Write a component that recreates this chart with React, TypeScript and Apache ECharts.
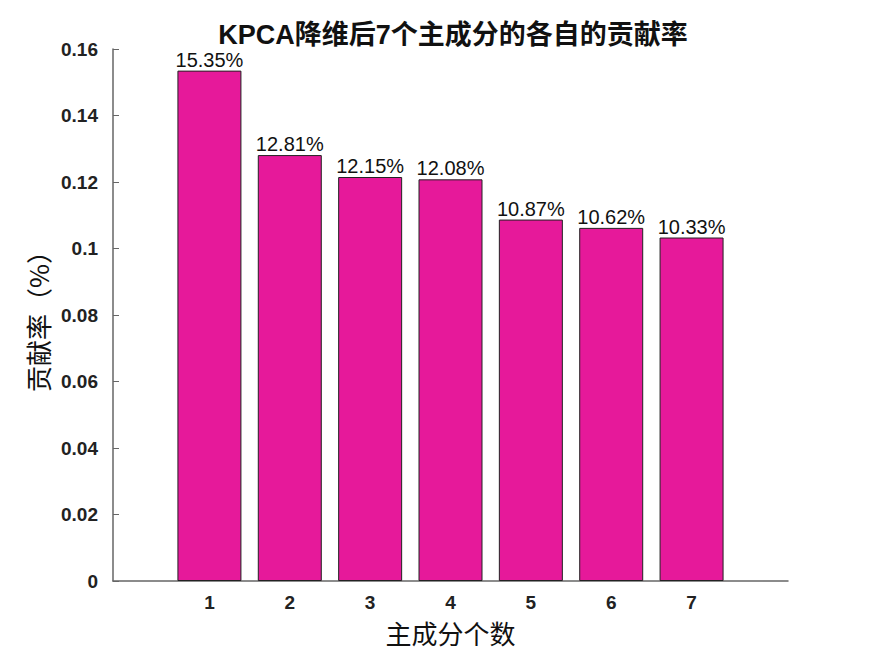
import { useRef, useEffect } from "react";
import * as echarts from "echarts";

const components = [1, 2, 3, 4, 5, 6, 7];
const rates = [0.1535, 0.1281, 0.1215, 0.1208, 0.1087, 0.1062, 0.1033];
const rateLabels = ["15.35%", "12.81%", "12.15%", "12.08%", "10.87%", "10.62%", "10.33%"];

const BAR_COLOR = "#e6199a";
const AXIS_COLOR = "#666666";

export default function App() {
  const chartRef = useRef<HTMLDivElement>(null);
  useEffect(() => {
    document.body.style.margin = "0";
    if (!chartRef.current) return;
    const chart = echarts.init(chartRef.current, null, { renderer: "svg" });
    const option: echarts.EChartsOption = {
      animation: false,
      backgroundColor: "#ffffff",
      title: {
        text: "KPCA降维后7个主成分的各自的贡献率",
        left: 448, top: 16, textAlign: "center",
        textStyle: { fontFamily: "Liberation Sans, Noto Sans CJK SC", fontSize: 27, fontWeight: "bold", color: "#111" },
      },
      grid: { left: 113, right: 84, top: 49, bottom: 73, containLabel: false, outerBoundsMode: "none" } as any,
      xAxis: {
        type: "value", min: -0.2, max: 8.2,
        name: "主成分个数", nameLocation: "middle", nameGap: 38,
        nameTextStyle: { fontFamily: "Noto Sans CJK SC", fontSize: 26, color: "#111" },
        axisLine: { show: true, onZero: false, lineStyle: { color: AXIS_COLOR, width: 1.5 } },
        axisTick: { show: true, inside: true, length: 6, customValues: components, lineStyle: { color: AXIS_COLOR } },
        axisLabel: {
          customValues: components, margin: 12,
          fontFamily: "Liberation Sans", fontSize: 19, fontWeight: "bold", color: "#222",
        },
        splitLine: { show: false },
      } as any,
      yAxis: {
        type: "value", min: 0, max: 0.16, interval: 0.02,
        name: "贡献率（%）", nameLocation: "middle", nameGap: 60, nameRotate: 90,
        nameTextStyle: { fontFamily: "Noto Sans CJK SC", fontSize: 26, color: "#111" },
        axisLine: { show: true, onZero: false, lineStyle: { color: AXIS_COLOR, width: 1.5 } },
        axisTick: { show: true, inside: true, length: 6, lineStyle: { color: AXIS_COLOR } },
        axisLabel: {
          margin: 15, fontFamily: "Liberation Sans", fontSize: 19, fontWeight: "bold", color: "#222",
          formatter: (v: number) => String(parseFloat(v.toFixed(2))),
        },
        splitLine: { show: false },
      },
      series: [
        {
          type: "bar",
          barWidth: 64,
          data: components.map((c, i) => [c, rates[i]]),
          itemStyle: { color: BAR_COLOR, borderColor: "#222", borderWidth: 1 },
          label: {
            show: true, position: "top", distance: 1,
            formatter: (p: any) => rateLabels[p.dataIndex],
            fontFamily: "Liberation Sans", fontSize: 20, color: "#111",
          },
        },
      ],
    };
    chart.setOption(option);
    return () => { chart.dispose(); };
  }, []);
  return <div ref={chartRef} style={{ width: 872, height: 654 }} />;
}
